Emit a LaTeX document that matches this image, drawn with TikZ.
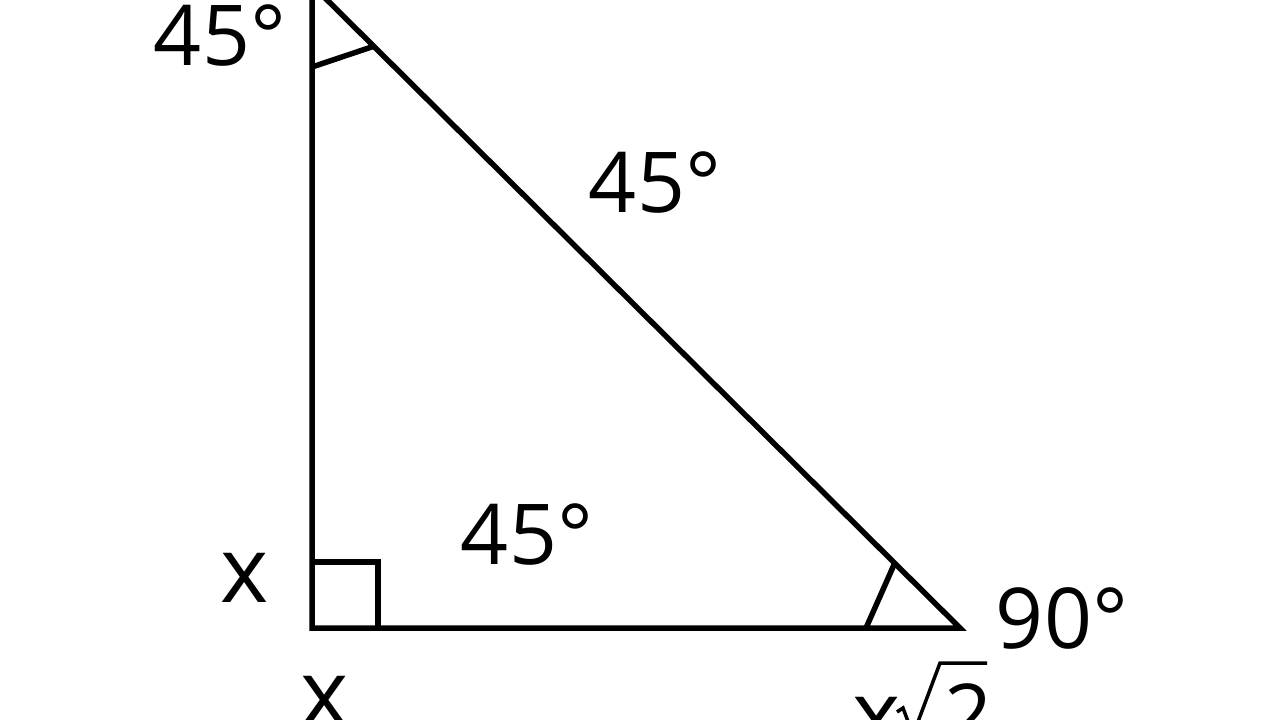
\documentclass[tikz,border=0pt]{standalone}
\usepackage{fontspec}
\setmainfont{Open Sans}
\usetikzlibrary{calc,positioning}

\begin{document}
\begin{tikzpicture}[
            x=1pt,y=-1pt,
            side/.style={line width=5.5pt,line join=miter},
            deg/.style={inner sep=0pt,font=\fontsize{84}{84}\selectfont},
            len/.style={inner sep=0pt,font=\fontsize{92}{92}\selectfont}
        ]
            \useasboundingbox (0,0) rectangle (1280,720);

            \coordinate (A) at (312,-15);
            \coordinate (B) at (312,628);
            \coordinate (C) at (960,628);

            \draw [side] (A) -- (B) -- (C) -- cycle;

            % right angle and angle marks
            \draw [side] ($(B)+(0,-66)$) -- ++(66,0) -- ++(0,66);
            \draw [side] ($(A)!82pt!(B)$) -- ($(A)!87pt!(C)$);
            \draw [side] ($(C)!94pt!(B)$) -- ($(C)!92pt!(A)$);

            \node (a1) [deg] at (220,35)   {45°};
            \node (a2) [deg] at (655,182)  {45°};
            \node (a3) [deg] at (527,534)  {45°};
            \node (a4) [deg] at (1062,618) {90°};

            \node (l1) [len] at (245,578) {x};
            \node (l2) [len] at (325,701) {x};
            \node (l3) [len,anchor=north west] at (852,697) {x};
            \node (l4) [deg,anchor=north west] at (944,683) {2};
            \draw [line width=3.5pt] (897,712) -- (903,708) -- (913,735) -- (940,663) -- (987,663);
        \end{tikzpicture}
\end{document}
